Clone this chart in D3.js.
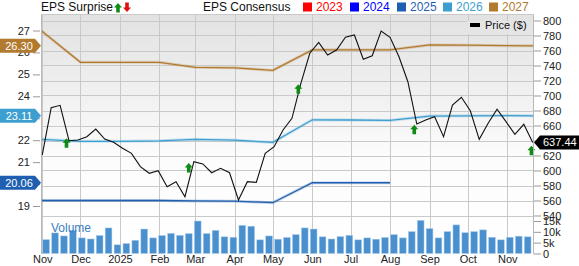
<!DOCTYPE html>
<html>
<head>
<meta charset="utf-8">
<script src="https://cdn.jsdelivr.net/npm/d3@7"></script>
<style>
  body { margin: 0; background: #fff; }
  svg { font-family: "Liberation Sans", Arial, sans-serif; display: block; }
  .tick text { font-size: 11px; fill: #222; }
</style>
</head>
<body>
<svg width="579" height="266"></svg>
<script>
// weekly price / volume (week starting dates)
var weekStart = "2024-11-01";
var prices = [620.7, 683.7, 686.9, 639.7, 640.7, 645, 655.3, 642, 637.6, 629.6,
  622.9, 605.1, 596.3, 599.7, 578.4, 585.1, 565, 611.7, 608.7, 597,
  602.9, 597, 560.7, 585.1, 584.2, 622.9, 631.7, 654, 669.6, 716.3,
  756.3, 770.9, 754, 760.7, 777.6, 780.7, 748.3, 753, 786, 777.6,
  751.7, 718.4, 662, 667.3, 671.7, 645, 687.3, 697.6, 679.7, 641.6,
  662.9, 681.6, 665.1, 648.3, 661.6, 637.44];
var volumes = [6.4, 9.5, 8.1, 10.7, 7.2, 6.7, 8.3, 11.8, 4.0, 4.6,
  6.1, 11.3, 7.2, 8.3, 9.3, 8.4, 9.2, 15.0, 9.2, 10.7,
  7.7, 7.5, 13.0, 12.6, 6.3, 8.1, 6.6, 7.4, 8.7, 11.8,
  11.3, 7.7, 6.7, 7.8, 8.4, 6.3, 7.2, 6.6, 7.4, 8.7,
  7.2, 10.1, 15.3, 11.5, 7.2, 10.1, 13.2, 9.6, 10.1, 10.9,
  7.5, 6.3, 7.5, 8.0, 7.7, 7.8];

// EPS consensus (monthly)
var epsDates = ["2024-10-31", "2024-12-01", "2025-01-01", "2025-02-01", "2025-03-01", "2025-04-01",
  "2025-05-01", "2025-06-01", "2025-07-01", "2025-08-01", "2025-09-01", "2025-10-01", "2025-11-01", "2025-11-22"];
var eps2027 = [27.0, 25.55, 25.55, 25.55, 25.32, 25.30, 25.18, 26.12, 26.12, 26.12, 26.34, 26.33, 26.31, 26.30];
var eps2026 = [22.04, 21.95, 21.95, 21.97, 22.04, 22.0, 21.9, 22.93, 22.92, 22.9, 23.1, 23.11, 23.12, 23.11];
var eps2025 = [19.25, 19.25, 19.25, 19.25, 19.23, 19.22, 19.15, 20.06, 20.06, 20.06, null, null, null, null];

var legendYears = ["2023", "2024", "2025", "2026", "2027"];
var yearColors = ["#ff0000", "#0000ff", "#1f5fb2", "#3d9fd0", "#b17a2e"];

// EPS surprise arrows: date and price level of the arrow tip
var surpriseDates = ["2024-11-20", "2025-02-24", "2025-05-21", "2025-08-20", "2025-11-20"];
var surpriseLevels = [643, 610, 715, 661, 633];

var epsTicks = [19, 20, 21, 22, 23, 24, 25, 26, 27];
var priceTicks = [540, 560, 580, 600, 620, 640, 660, 680, 700, 720, 740, 760, 780, 800];
var volTicks = [0, 5, 10, 15];
var lastPrice = "637.44";

var parse = d3.timeParse("%Y-%m-%d");
var svg = d3.select("svg");
var plotL = 41, plotR = 534, plotT = 14, plotB = 254;

var x = d3.scaleTime().domain([parse("2024-10-31"), parse("2025-11-22")]).range([plotL, plotR]);
var yEps = d3.scaleLinear().domain([19, 27]).range([206, 30.5]);
var yPrice = d3.scaleLinear().domain([540, 800]).range([215.5, 20.5]);
var yVol = d3.scaleLinear().domain([0, 15]).range([253.5, 221]);

var defs = svg.append("defs");
var grad = defs.append("linearGradient").attr("id", "bg").attr("x1", 0).attr("y1", 0).attr("x2", 0).attr("y2", 1);
grad.append("stop").attr("offset", "0%").attr("stop-color", "#e2e2e2");
grad.append("stop").attr("offset", "60%").attr("stop-color", "#fcfcfc");
grad.append("stop").attr("offset", "100%").attr("stop-color", "#ffffff");
defs.append("clipPath").attr("id", "clip").append("rect")
  .attr("x", plotL).attr("y", plotT).attr("width", plotR - plotL).attr("height", plotB - plotT);

svg.append("rect").attr("x", plotL).attr("y", plotT).attr("width", plotR - plotL).attr("height", plotB - plotT)
  .attr("fill", "url(#bg)");

var weeks = prices.map(function(p, i) { return d3.timeDay.offset(parse(weekStart), 7 * i); });

// grid
var months = x.ticks(d3.timeMonth.every(1));
svg.append("g").selectAll("line").data(months).enter().append("line")
  .attr("x1", function(d) { return Math.round(x(d)) + 0.5; })
  .attr("x2", function(d) { return Math.round(x(d)) + 0.5; })
  .attr("y1", plotT).attr("y2", plotB)
  .attr("stroke", "#c9c9c9").attr("stroke-width", 1);
svg.append("g").selectAll("line").data(priceTicks).enter().append("line")
  .attr("x1", plotL).attr("x2", plotR)
  .attr("y1", function(d) { return Math.round(yPrice(d)) + 0.5; })
  .attr("y2", function(d) { return Math.round(yPrice(d)) + 0.5; })
  .attr("stroke", "#c9c9c9").attr("stroke-width", 1);

var plot = svg.append("g").attr("clip-path", "url(#clip)");

// volume bars
plot.selectAll(".vol").data(volumes).enter().append("rect")
  .attr("class", "vol")
  .attr("x", function(d, i) { return x(weeks[i]) + 0.5; })
  .attr("width", function(d, i) { return x(d3.timeDay.offset(weeks[i], 7)) - x(weeks[i]) - 2.2; })
  .attr("y", function(d) { return yVol(d); })
  .attr("height", function(d) { return yVol(0) - yVol(d); })
  .attr("fill", "#4a90cf").attr("stroke", "#a9cdec").attr("stroke-width", 0.5);

svg.append("text").attr("x", 51).attr("y", 232).attr("font-size", 12).attr("fill", "#3a7fc2").text("Volume");

// EPS lines
var epsLine = d3.line()
  .defined(function(d) { return d.v != null; })
  .x(function(d) { return x(d.date); })
  .y(function(d) { return yEps(d.v); });
[[eps2025, yearColors[2]], [eps2026, yearColors[3]], [eps2027, yearColors[4]]].forEach(function(s) {
  var pts = s[0].map(function(v, i) { return {date: parse(epsDates[i]), v: v}; });
  plot.append("path").attr("d", epsLine(pts)).attr("fill", "none")
    .attr("stroke", s[1]).attr("stroke-opacity", 0.25).attr("stroke-width", 3);
  plot.append("path").attr("d", epsLine(pts)).attr("fill", "none")
    .attr("stroke", s[1]).attr("stroke-width", 1.3);
});

// price line
var priceLine = d3.line()
  .x(function(d, i) { return x(weeks[i]); })
  .y(function(d) { return yPrice(d); });
plot.append("path").attr("d", priceLine(prices)).attr("fill", "none")
  .attr("stroke", "#111").attr("stroke-width", 1.1);

// surprise arrows
function upArrow(g, cx, ty, color) {
  g.append("path")
    .attr("d", "M" + cx + "," + ty + "l4,4.5h-2.2v5h-3.6v-5h-2.2z")
    .attr("fill", color);
}
surpriseDates.forEach(function(d, i) {
  upArrow(svg, x(parse(d)), yPrice(surpriseLevels[i]), "#0f8a14");
});

// legend box for price
svg.append("rect").attr("x", 467).attr("y", 21).attr("width", 66).attr("height", 13).attr("fill", "#e5e5e5");
svg.append("rect").attr("x", 470).attr("y", 23).attr("width", 10).attr("height", 4).attr("fill", "#000");
svg.append("text").attr("x", 485).attr("y", 29).attr("font-size", 11).attr("fill", "#111").text("Price ($)");

// frame
svg.append("line").attr("x1", plotL + 0.5).attr("x2", plotL + 0.5).attr("y1", plotT).attr("y2", plotB)
  .attr("stroke", "#b8b8b8");
svg.append("line").attr("x1", plotR - 0.5).attr("x2", plotR - 0.5).attr("y1", plotT).attr("y2", plotB)
  .attr("stroke", "#b8b8b8");
svg.append("line").attr("x1", plotL).attr("x2", plotR).attr("y1", plotT + 0.5).attr("y2", plotT + 0.5)
  .attr("stroke", "#c9c9c9");

// left EPS axis
svg.append("g").attr("transform", "translate(" + (plotL - 1) + ",0)")
  .call(d3.axisLeft(yEps).tickValues(epsTicks).tickSize(7).tickPadding(3).tickFormat(d3.format("d")))
  .call(function(g) {
    g.select(".domain").remove();
    g.selectAll(".tick line").attr("stroke", "#999");
  });

// right price axis
svg.append("g").attr("transform", "translate(" + plotR + ",0)")
  .call(d3.axisRight(yPrice).tickValues(priceTicks).tickSize(7).tickPadding(2))
  .call(function(g) {
    g.select(".domain").remove();
    g.selectAll(".tick line").attr("stroke", "#999");
  });

// right volume axis
svg.append("g").attr("transform", "translate(" + plotR + ",0)")
  .call(d3.axisRight(yVol).tickValues(volTicks).tickSize(7).tickPadding(2)
    .tickFormat(function(d) { return d === 0 ? "0" : d + "k"; }))
  .call(function(g) {
    g.select(".domain").remove();
    g.selectAll(".tick line").attr("stroke", "#999");
  });

// x axis
svg.append("g").attr("transform", "translate(0," + plotB + ")")
  .call(d3.axisBottom(x).tickValues(months).tickSize(0).tickPadding(1)
    .tickFormat(function(d) { return d.getMonth() === 0 ? d3.timeFormat("%Y")(d) : d3.timeFormat("%b")(d); }))
  .call(function(g) { g.select(".domain").remove(); });

// left badges
function leftBadge(val, color) {
  var cy = yEps(val);
  svg.append("path")
    .attr("d", "M0," + (cy - 7) + "H35L41," + cy + "L35," + (cy + 7) + "H0Z")
    .attr("fill", color);
  svg.append("text").attr("x", 19).attr("y", cy + 4).attr("text-anchor", "middle")
    .attr("font-size", 11).attr("fill", "#fff").text(d3.format(".2f")(val));
}
leftBadge(eps2027[eps2027.length - 1], "#b17a2e");
leftBadge(eps2026[eps2026.length - 1], "#3d9fd0");
leftBadge(eps2025[9], "#1f5fb2");

// right badge
var py = yPrice(+lastPrice);
svg.append("path")
  .attr("d", "M" + plotR + "," + py + "L540," + (py - 7) + "H579V" + (py + 7) + "H540Z")
  .attr("fill", "#000");
svg.append("text").attr("x", 543).attr("y", py + 4).attr("font-size", 11).attr("fill", "#fff").text(lastPrice);

// top legend
svg.append("text").attr("x", 41).attr("y", 11).attr("font-size", 12).attr("fill", "#111").text("EPS Surprise");
upArrow(svg, 118, 3, "#0f8a14");
svg.append("path").attr("d", "M127,12l-4,-4.5h2.2v-5h3.6v5h2.2z").attr("fill", "#e01010");
svg.append("text").attr("x", 203).attr("y", 11).attr("font-size", 12).attr("fill", "#111").text("EPS Consensus");

var legX = [303, 350, 397, 443, 489];
legendYears.forEach(function(yr, i) {
  svg.append("rect").attr("x", legX[i]).attr("y", 2.5).attr("width", 9).attr("height", 9).attr("fill", yearColors[i]);
  svg.append("text").attr("x", legX[i] + 13).attr("y", 11).attr("font-size", 12)
    .attr("fill", yearColors[i]).text(yr);
});
</script>
</body>
</html>
